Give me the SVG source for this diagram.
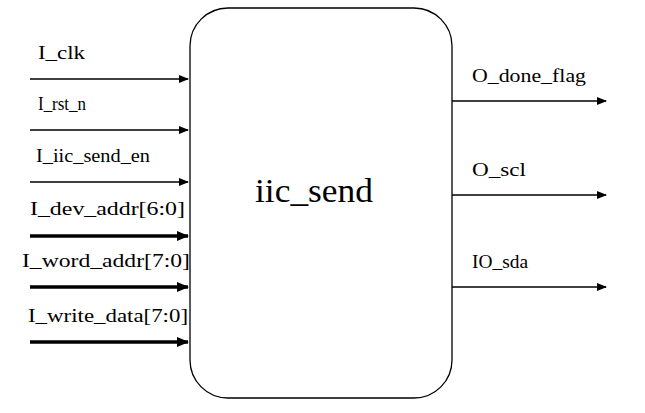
<svg xmlns="http://www.w3.org/2000/svg" width="645" height="413" viewBox="0 0 645 413">
<style>
text{font-family:"Liberation Serif",serif;fill:#000}
.l{font-size:18px}
.t{stroke:#000;stroke-width:1.3;fill:none}
.k{stroke:#000;stroke-width:3.5;fill:none}
</style>
<defs>
<marker id="a" markerWidth="10" markerHeight="8" refX="9" refY="4" orient="auto" markerUnits="userSpaceOnUse"><path d="M0,0L10,4L0,8z" fill="#000"/></marker>
<marker id="b" markerWidth="12" markerHeight="10" refX="11" refY="5" orient="auto" markerUnits="userSpaceOnUse"><path d="M0,0L12,5L0,10z" fill="#000"/></marker>
</defs>
<rect width="645" height="413" fill="#fff"/>
<g id="iic_send"><rect x="190" y="8" width="262" height="390" rx="38" fill="#fff" stroke="#000" stroke-width="1.3"/>
<text x="255" y="202" font-size="34" textLength="118" lengthAdjust="spacingAndGlyphs">iic_send</text></g>
<g id="connectors">
<path class="t" d="M30,79H188" marker-end="url(#a)"/>
<path class="t" d="M30,130H188" marker-end="url(#a)"/>
<path class="t" d="M30,182H188" marker-end="url(#a)"/>
<path class="k" d="M30,236H188" marker-end="url(#b)"/>
<path class="k" d="M30,287H188" marker-end="url(#b)"/>
<path class="k" d="M30,342H188" marker-end="url(#b)"/>
<path class="t" d="M452,101H606" marker-end="url(#a)"/>
<path class="t" d="M452,195H606" marker-end="url(#a)"/>
<path class="t" d="M452,287H606" marker-end="url(#a)"/>
</g>
<g id="labels" class="l">
<text x="38" y="59" textLength="47" lengthAdjust="spacingAndGlyphs">I_clk</text>
<text x="38" y="110" textLength="48" lengthAdjust="spacingAndGlyphs">I_rst_n</text>
<text x="36" y="162" textLength="114" lengthAdjust="spacingAndGlyphs">I_iic_send_en</text>
<text x="30" y="215" textLength="155" lengthAdjust="spacingAndGlyphs">I_dev_addr[6:0]</text>
<text x="22" y="267" textLength="168" lengthAdjust="spacingAndGlyphs">I_word_addr[7:0]</text>
<text x="28" y="322" textLength="160" lengthAdjust="spacingAndGlyphs">I_write_data[7:0]</text>
<text x="472" y="82" textLength="114" lengthAdjust="spacingAndGlyphs">O_done_flag</text>
<text x="472" y="176" textLength="54" lengthAdjust="spacingAndGlyphs">O_scl</text>
<text x="472" y="268" textLength="56" lengthAdjust="spacingAndGlyphs">IO_sda</text>
</g>
</svg>
